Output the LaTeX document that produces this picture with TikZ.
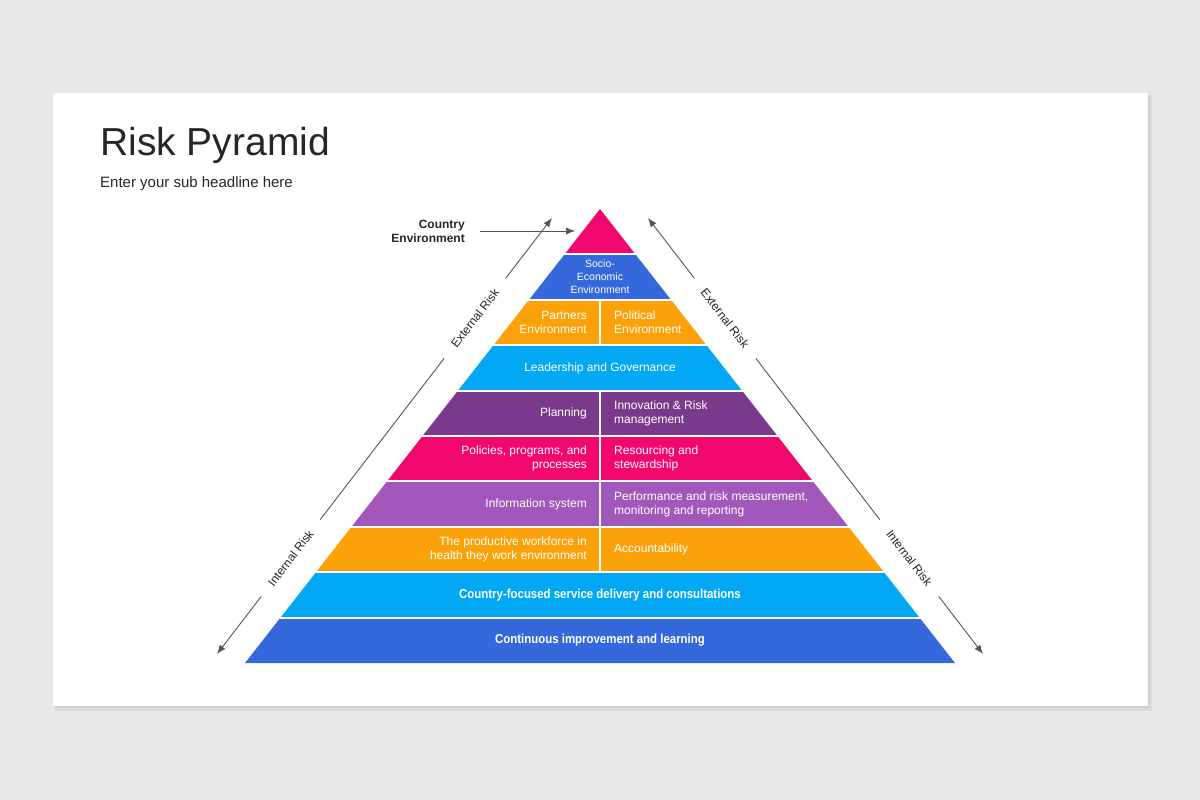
\documentclass[tikz,border=0pt]{standalone}
\usepackage{fontspec}
\setmainfont{Liberation Sans}
\newfontfamily\condfont[FakeStretch=0.88]{Liberation Sans}
\usetikzlibrary{arrows.meta,positioning,calc}
\definecolor{rpBack}{HTML}{E9E8E9}
\definecolor{rpPink}{HTML}{F0086C}
\definecolor{rpBlue}{HTML}{3468DB}
\definecolor{rpOrange}{HTML}{FBA20A}
\definecolor{rpCyan}{HTML}{02A8F4}
\definecolor{rpPlum}{HTML}{7A3A8C}
\definecolor{rpViolet}{HTML}{A258BA}
\definecolor{rpArrow}{HTML}{555555}
\definecolor{rpText}{HTML}{262626}

\begin{document}
\begin{tikzpicture}[
    x=1pt, y=-1pt, >={Latex[length=9pt,width=7pt]},
    lay/.style={font=\fontsize{12}{14}\selectfont, text=white, inner sep=0pt},
    layl/.style={lay, anchor=east, align=right},
    layr/.style={lay, anchor=west, align=left},
    laym/.style={lay, align=center},
    layb/.style={lay, font=\condfont\bfseries\fontsize{13}{15}\selectfont},
    sep/.style={draw=white, line width=2pt},
    riskline/.style={<->, draw=rpArrow, line width=0.9pt},
    risklab/.style={sloped, fill=white, inner xsep=15pt, inner ysep=2pt, font=\fontsize{12}{14}\selectfont, text=rpText},
  ]
  % slide
  \fill[rpBack] (0,0) rectangle (1200,800);
  \fill[black, opacity=0.05] (55,96) rectangle (1152,711);
  \fill[black, opacity=0.05] (54,94) rectangle (1150,708);
  \fill[white] (53,93) rectangle (1148,706);
  \node[anchor=base west, inner sep=0pt, font=\fontsize{39}{44}\selectfont, text=rpText] (title) at (100,155) {Risk Pyramid};
  \node[anchor=base west, inner sep=0pt, font=\fontsize{15}{18}\selectfont, text=rpText] (subtitle) at (100,187) {Enter your sub headline here};

  % pyramid
  \coordinate (apex) at (600,209);
  \coordinate (bl) at (245,663);
  \coordinate (br) at (955,663);
  \foreach \col [count=\i from 0] in {rpPink,rpBlue,rpOrange,rpCyan,rpPlum,rpPink,rpViolet,rpOrange,rpCyan,rpBlue} {
    \pgfmathsetmacro\ta{\i/10}
    \pgfmathsetmacro\tb{(\i+1)/10}
    \fill[\col] ($(apex)!\ta!(bl)$) -- ($(apex)!\tb!(bl)$) -- ($(apex)!\tb!(br)$) -- ($(apex)!\ta!(br)$) -- cycle;
  }
  \foreach \i in {1,...,9}
    \draw[sep] ($(apex)!\i/10!(bl)+(-1,0)$) -- ($(apex)!\i/10!(br)+(1,0)$);
  \draw[sep] (600,299.8) -- (600,345.2);
  \draw[sep] (600,390.6) -- (600,572.2);

  % layer texts
  \node[laym, font=\fontsize{10.5}{13}\selectfont] (socio) at (600,277) {Socio-\\Economic\\Environment};
  \node[layl] (partners) at (587,322.5) {Partners\\Environment};
  \node[layr] (political) at (614,322.5) {Political\\Environment};
  \node[laym] (leader) at (600,367.9) {Leadership and Governance};
  \node[layl] (planning) at (587,413.3) {Planning};
  \node[layr] (innov) at (614,413.3) {Innovation \& Risk\\management};
  \node[layl] (policies) at (587,458.7) {Policies, programs, and\\processes};
  \node[layr] (resourcing) at (614,458.7) {Resourcing and\\stewardship};
  \node[layl] (infosys) at (587,504.1) {Information system};
  \node[layr] (perform) at (614,504.1) {Performance and risk measurement,\\monitoring and reporting};
  \node[layl] (workforce) at (587,549.5) {The productive workforce in\\health they work environment};
  \node[layr] (account) at (614,549.5) {Accountability};
  \node[layb] (service) at (600,594.9) {Country-focused service delivery and consultations};
  \node[layb] (improve) at (600,640.3) {Continuous improvement and learning};

  % country label
  \node[anchor=east, align=right, inner sep=0pt, text=rpText, font=\bfseries\fontsize{12}{14}\selectfont] (country) at (465,231) {Country\\Environment};
  \coordinate (ctip) at (575,231);
  \draw[->, draw=rpArrow, line width=0.7pt] ([xshift=15pt]country.east) -- (ctip);

  % risk arrows
  \coordinate (lt) at (552,218);
  \coordinate (lb) at (217,654);
  \coordinate (rt) at (648,218);
  \coordinate (rb) at (983,654);
  \draw[riskline] (lt) -- node[risklab, pos=0.23] {External Risk} node[risklab, pos=0.78] {Internal Risk} (lb);
  \draw[riskline] (rt) -- node[risklab, pos=0.23] {External Risk} node[risklab, pos=0.78] {Internal Risk} (rb);
\end{tikzpicture}
\end{document}
